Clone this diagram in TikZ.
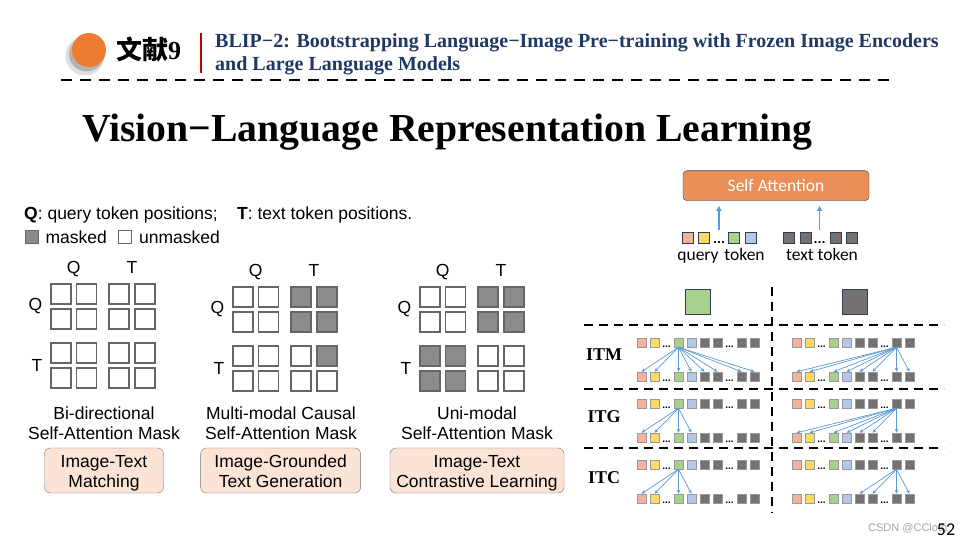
\documentclass[tikz,border=0pt]{standalone}
\usepackage{fontspec}
\setmainfont{Liberation Serif}
\setsansfont{Liberation Sans}
\newfontfamily\cjkfont{Noto Sans CJK SC}
\newfontfamily\calibfont{Carlito}
\usetikzlibrary{arrows.meta,positioning,calc}

\definecolor{navy}{HTML}{1F3864}
\definecolor{hdrred}{HTML}{C00000}
\definecolor{dotorange}{HTML}{ED7D31}
\definecolor{maskgray}{HTML}{8C8C8C}
\definecolor{taskfill}{HTML}{FBE4D6}
\definecolor{saorange}{HTML}{E98F57}
\definecolor{saedge}{HTML}{2F4057}
\definecolor{arrowblue}{HTML}{5B9BD5}
\definecolor{tkred}{HTML}{F4B19B}
\definecolor{tkyellow}{HTML}{FFD966}
\definecolor{tkgreen}{HTML}{A9D18E}
\definecolor{tkblue}{HTML}{B4C7E7}
\definecolor{tkgray}{HTML}{767171}

\newcommand{\topstrut}{\rule{0pt}{18pt}}
\newcommand{\botstrut}{\rule[-5pt]{0pt}{5pt}}

\begin{document}
\begin{tikzpicture}[
  x=1pt, y=-1pt,
  font=\sffamily\fontsize{17.5}{20}\selectfont,
  maskcell/.style={draw=black!60, line width=1.1pt, fill=white, minimum size=20pt, inner sep=0pt},
  masked/.style={fill=maskgray},
  b-0-2/.style=masked, b-0-3/.style=masked, b-1-2/.style=masked, b-1-3/.style=masked,
  b-2-3/.style=masked,
  c-0-2/.style=masked, c-0-3/.style=masked, c-1-2/.style=masked, c-1-3/.style=masked,
  c-2-0/.style=masked, c-2-1/.style=masked, c-3-0/.style=masked, c-3-1/.style=masked,
  lbl/.style={inner sep=0pt},
  taskbox/.style={draw=black!55, fill=taskfill, rounded corners=6pt, minimum height=45pt,
    inner xsep=3pt, inner ysep=0pt, align=center},
  tok/.style={draw=black!40, line width=0.5pt, minimum size=9pt, inner sep=0pt},
  bigtok/.style={draw=saedge, line width=0.7pt, minimum size=11pt, inner sep=0pt},
  tokdots/.style={inner sep=0pt, anchor=base, font=\sffamily\bfseries\fontsize{10}{10}\selectfont},
  divider/.style={line width=1.8pt, dash pattern=on 9pt off 6pt},
  att/.style={arrowblue, line width=0.7pt, -{Stealth[length=4pt,width=3.5pt]}},
  tasklbl/.style={inner sep=0pt, font=\rmfamily\bfseries\fontsize{18}{20}\selectfont},
]
\useasboundingbox (0,0) rectangle (960,540);
\fill[white] (0,0) rectangle (960,540);

% header
\fill[black,opacity=.12] (85,56) circle (19.5pt);
\fill[black,opacity=.2] (86.5,54) circle (17.5pt);
\node[circle, fill=dotorange, minimum size=34pt, inner sep=0pt] (dot) at (89,50) {};
\node[lbl, anchor=base west, font=\rmfamily\bfseries\fontsize{26}{28}\selectfont] (ref) at (116,60) {{\cjkfont\bfseries 文献}9};
\draw[hdrred, line width=2.5pt] (201,33) -- (201,73);
\node[lbl, anchor=base west, text=navy, font=\rmfamily\bfseries\fontsize{20}{23}\selectfont] (hdr1) at (215,47.5)
  {BLIP−2: Bootstrapping Language−Image Pre−training with Frozen Image Encoders};
\node[lbl, anchor=base west, text=navy, font=\rmfamily\bfseries\fontsize{20}{23}\selectfont] (hdr2)
  at ([yshift=-23pt]hdr1.base west) {and Large Language Models};
\draw[line width=1.8pt, dash pattern=on 11pt off 8pt] (61,80) -- (895,80);

\node[lbl, anchor=base west, font=\rmfamily\bfseries\fontsize{39.7}{44}\selectfont] (title) at (82,141.5)
  {Vision−Language Representation Learning};

% legend
\node[lbl, anchor=base west] (qdef) at (24,219.5) {\textbf{Q}: query token positions;};
\node[lbl, anchor=base west] (tdef) at (237,219.5) {\textbf{T}: text token positions.};
\node[maskcell, masked, minimum size=13pt, line width=0.8pt] (mkey) at (31.5,237) {};
\node[lbl, right=7pt of mkey] (mtxt) {masked};
\node[maskcell, minimum size=13pt, line width=0.8pt] (ukey) at (125,237) {};
\node[lbl, right=7pt of ukey] (utxt) {unmasked};

% attention masks
\foreach \g/\gx/\gy in {a/51/284, b/233/287, c/420/287} {
  \foreach \r/\ry in {0/0, 1/25, 2/59, 3/84} {
    \foreach \c/\cx in {0/0, 1/25.5, 2/58, 3/84} {
      \node[maskcell, \g-\r-\c/.try] (\g-\r-\c) at (\gx+\cx+10,\gy+\ry+10) {};
    }
  }
  \node[lbl, anchor=base] (\g-qc) at ($(\g-0-0.north)!.5!(\g-0-1.north)+(0,-10)$) {Q};
  \node[lbl, anchor=base] (\g-tc) at ($(\g-0-2.north)!.5!(\g-0-3.north)+(0,-10)$) {T};
  \node[lbl, left=8pt of $(\g-0-0.west)!.5!(\g-1-0.west)$] (\g-qr) {Q};
  \node[lbl, left=8pt of $(\g-2-0.west)!.5!(\g-3-0.west)$] (\g-tr) {T};
}

\node[lbl, align=center] (a-cap) at (104,423) {Bi-directional\\Self-Attention Mask};
\node[lbl, align=center] (b-cap) at (281,423) {Multi-modal Causal\\Self-Attention Mask};
\node[lbl, align=center] (c-cap) at (477,423) {Uni-modal\\Self-Attention Mask};

\node[taskbox, minimum width=119pt] (a-task) at (104,470.5) {\topstrut Image-Text\\Matching\botstrut};
\node[taskbox, minimum width=160pt] (b-task) at (280.6,470.5) {\topstrut Image-Grounded\\Text Generation\botstrut};
\node[taskbox, minimum width=174pt] (c-task) at (477,470.5) {\topstrut Image-Text\\Contrastive Learning\botstrut};

% self attention over query and text tokens
\node[draw=saedge, fill=saorange, rounded corners=4pt, minimum width=186pt, minimum height=30pt,
  text=white, font=\calibfont\fontsize{17.5}{20}\selectfont] (sa) at (776,185.7) {Self Attention};
\foreach \i/\x/\col in {1/688/tkred, 2/704/tkyellow, 3/734/tkgreen, 4/750.5/tkblue}
  \node[bigtok, fill=\col] (q\i) at (\x,238) {};
\foreach \i/\x in {1/789, 2/805.5, 3/835.5, 4/851.5}
  \node[bigtok, fill=tkgray] (t\i) at (\x,238) {};
\node[tokdots, font=\calibfont\bfseries\fontsize{15}{15}\selectfont] (qdots) at (719,243) {...};
\node[tokdots, font=\calibfont\bfseries\fontsize{15}{15}\selectfont] (tdots) at (819.5,243) {...};
\draw[arrowblue, line width=1.3pt, -{Triangle[length=5pt,width=5pt]}, shorten >=5pt]
  ([yshift=11pt]qdots.north) -- (sa.south -| qdots.north);
\draw[arrowblue, line width=1.3pt, -{Triangle[length=5pt,width=5pt]}, shorten >=5pt]
  ([yshift=11pt]tdots.north) -- (sa.south -| tdots.north);
\node[lbl, anchor=base, font=\calibfont\fontsize{17.5}{20}\selectfont] (qlab) at (721,260) {query\,\,token};
\node[lbl, anchor=base, font=\calibfont\fontsize{17.5}{20}\selectfont] (tlab) at (822,260) {text token};

\node[draw=saedge, line width=0.8pt, fill=tkgreen, minimum size=25pt, inner sep=0pt] (qbig) at (698,301.5) {};
\node[draw=saedge, line width=0.8pt, fill=tkgray, minimum size=25pt, inner sep=0pt] (tbig) at (855,301.5) {};

\draw[divider] (772,287) -- (772,513);
\foreach \y in {325, 389, 448}
  \draw[divider] (584,\y) -- (944,\y);

\node[tasklbl] (itm) at (604,355) {ITM};
\node[tasklbl] (itg) at (604,417) {ITG};
\node[tasklbl] (itc) at (604,478) {ITC};

% token rows
\foreach \t/\ty in {itm/338, itg/399, itc/460} {
  \foreach \s/\sx in {l/637, r/792} {
    \foreach \row/\dy in {u/0, d/34} {
      \foreach \i/\ox/\col in {0/0/tkred, 1/13/tkyellow, 2/37/tkgreen, 3/50/tkblue,
                               4/63/tkgray, 5/76/tkgray, 6/100/tkgray, 7/113/tkgray}
        \node[tok, fill=\col] (\t-\s-\row-\i) at (\sx+\ox+4.5,\ty+\dy+4.5) {};
      \node[tokdots] (\t-\s-\row-da) at (\sx+29.5,\ty+\dy+9) {...};
      \node[tokdots] (\t-\s-\row-db) at (\sx+92.5,\ty+\dy+9) {...};
    }
  }
}

\foreach \j in {0,...,7} \draw[att] (itm-l-u-2.south) -- (itm-l-d-\j.north);
\foreach \j in {0,...,7} \draw[att] (itm-r-u-6.south) -- (itm-r-d-\j.north);
\foreach \j in {0,...,3} \draw[att] (itg-l-u-2.south) -- (itg-l-d-\j.north);
\foreach \j in {0,...,6} \draw[att] (itg-r-u-6.south) -- (itg-r-d-\j.north);
\foreach \j in {0,...,3} \draw[att] (itc-l-u-2.south) -- (itc-l-d-\j.north);
\foreach \j in {4,...,7} \draw[att] (itc-r-u-6.south) -- (itc-r-d-\j.north);

% footer
\node[lbl, anchor=base west, text=black!35, font=\sffamily\fontsize{11}{12}\selectfont] (csdn) at (868,531) {CSDN @CCloth};
\node[lbl, anchor=base, font=\calibfont\fontsize{18}{20}\selectfont] (pnum) at (946,535) {52};
\end{tikzpicture}
\end{document}
